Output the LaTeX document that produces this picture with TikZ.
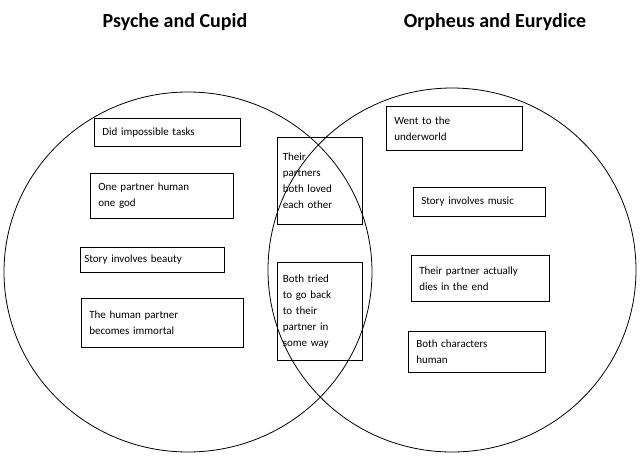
\documentclass[tikz,border=0pt]{standalone}
\usepackage{fontspec}
\setmainfont{Carlito}
\begin{document}
\begin{tikzpicture}[x=1pt,y=-1pt,
  bx/.style={draw,line width=0.6pt,anchor=north west,inner sep=0pt,align=left,font=\fontsize{11}{16}\selectfont},
  ttl/.style={font=\fontsize{20}{24}\selectfont\bfseries}]
\useasboundingbox (0,0) rectangle (640,469);
\draw[line width=0.8pt] (188,272) ellipse [x radius=184, y radius=180];
\draw[line width=0.8pt] (452,270) ellipse [x radius=184, y radius=182];
\node[ttl] (t1) at (175,22) {Psyche and Cupid};
\node[ttl] (t2) at (495,22) {Orpheus and Eurydice};
\node[bx,minimum width=146,minimum height=28,text width=138] (a1) at (94,118) {\hspace*{4pt}Did impossible tasks};
\node[bx,minimum width=143,minimum height=45,text width=135] (a2) at (90,173) {\hspace*{4pt}One partner human\\\hspace*{4pt}one god};
\node[bx,minimum width=144,minimum height=25,text width=140] (a3) at (80,247) {\hspace*{2pt}Story involves beauty};
\node[bx,minimum width=162,minimum height=49,text width=154] (a4) at (81,298) {\hspace*{4pt}The human partner\\\hspace*{4pt}becomes immortal};
\node[bx,minimum width=85,minimum height=87,text width=80] (m1) at (277,137) {\hspace*{3pt}Their\\\hspace*{3pt}partners\\\hspace*{3pt}both loved\\\hspace*{3pt}each other};
\node[bx,minimum width=85,minimum height=98,text width=80] (m2) at (277,262) {\hspace*{3pt}Both tried\\\hspace*{3pt}to go back\\\hspace*{3pt}to their\\\hspace*{3pt}partner in\\\hspace*{3pt}some way};
\node[bx,minimum width=136,minimum height=44,text width=128] (b1) at (386,106) {\hspace*{4pt}Went to the\\\hspace*{4pt}underworld};
\node[bx,minimum width=132,minimum height=29,text width=124] (b2) at (413,187) {\hspace*{4pt}Story involves music};
\node[bx,minimum width=138,minimum height=46,text width=130] (b3) at (411,255) {\hspace*{4pt}Their partner actually\\\hspace*{4pt}dies in the end};
\node[bx,minimum width=137,minimum height=41,text width=129] (b4) at (408,331) {\hspace*{4pt}Both characters\\\hspace*{4pt}human};
\end{tikzpicture}
\end{document}
